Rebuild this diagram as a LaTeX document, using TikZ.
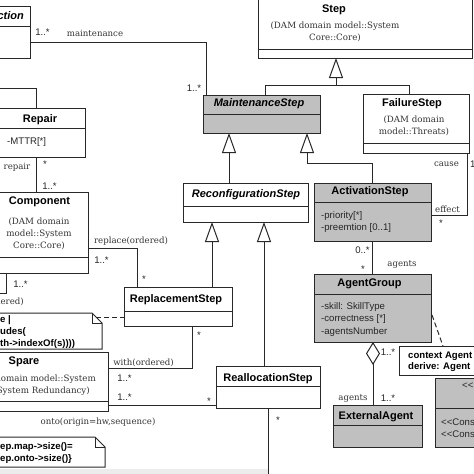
\documentclass[tikz,border=0pt]{standalone}
\usepackage{fontspec}
\setmainfont{DejaVu Serif}
\setsansfont{Liberation Sans}
\usetikzlibrary{arrows.meta,calc}
\definecolor{clsgray}{RGB}{192,192,192}
\definecolor{lncol}{RGB}{40,40,40}
\definecolor{bandgray}{RGB}{236,236,236}
\newcommand\divline[2]{\draw[ln] ($(#1.north west)+(0,#2)$) -- ($(#1.north east)+(0,#2)$);}
\begin{document}
\begin{tikzpicture}[x=1pt,y=-1pt,
  ln/.style={draw=lncol,line width=1pt},
  gen/.style={-{Triangle[open,length=20pt,width=14pt]}},
  agg/.style={-{Diamond[open,length=23pt,width=14pt]}},
  dsh/.style={dash pattern=on 5pt off 3pt},
  clsbox/.style={draw=lncol,line width=1pt,fill=white,inner sep=0pt,outer sep=0pt,anchor=north west},
  gbox/.style={clsbox,fill=clsgray},
  notebox/.style={draw=none,fill=white,inner sep=0pt,outer sep=0pt,anchor=north west},
  cn/.style={inner sep=0pt,font=\sffamily\bfseries\fontsize{11}{13}\selectfont},
  acn/.style={inner sep=0pt,font=\sffamily\bfseries\itshape\fontsize{11}{13}\selectfont},
  pk/.style={inner sep=0pt,align=center,text=black!80,font=\fontsize{8.7}{12}\selectfont},
  attr/.style={inner sep=0pt,anchor=west,align=left,text=black!85,font=\sffamily\fontsize{9.6}{12.3}\selectfont},
  ml/.style={inner sep=0pt,text=black!85,font=\sffamily\fontsize{9.6}{11}\selectfont},
  lb/.style={inner sep=0pt,text=black!80,font=\fontsize{8.6}{10}\selectfont},
  nt/.style={inner sep=0pt,anchor=west,align=left,font=\sffamily\bfseries\fontsize{9.6}{12}\selectfont}]
\useasboundingbox (0,0) rectangle (474,474);
\clip (0,0) rectangle (474,474);
\fill[white] (0,0) rectangle (474,474);
\fill[bandgray] (0,469) rectangle (268,474);

% ---------- class boxes ----------
\node[clsbox,minimum width=70pt,minimum height=52pt] (act0) at (-40,6) {};
\divline{act0}{20}
\node[acn,anchor=east] (t-act0) at (24,16) {ction};

\node[clsbox,minimum width=214pt,minimum height=61pt] (step) at (258,-3) {};
\divline{step}{52}
\node[cn] (t-step) at (334,10) {Step};
\node[pk] (p-step) at (335,32) {(DAM domain model::System\\Core::Core)};

\node[gbox,minimum width=117pt,minimum height=38pt] (maint) at (203,95) {};
\divline{maint}{19}
\node[acn] (t-maint) at (259,104) {MaintenanceStep};

\node[clsbox,minimum width=106pt,minimum height=59pt] (fail) at (363,94) {};
\divline{fail}{49}
\node[cn] (t-fail) at (412,104) {FailureStep};
\node[pk] (p-fail) at (414,126) {(DAM domain\\model::Threats)};

\node[clsbox,minimum width=125pt,minimum height=39pt] (reconf) at (183,183) {};
\divline{reconf}{23}
\node[acn] (t-reconf) at (246,195) {ReconfigurationStep};

\node[gbox,minimum width=117pt,minimum height=58pt] (act) at (314,183) {};
\divline{act}{19}
\node[cn] (t-act) at (370,192) {ActivationStep};
\node[attr] (a-act) at (321,222) {-priority[*]\\-preemtion [0..1]};

\node[gbox,minimum width=117pt,minimum height=68pt] (ag) at (314,274) {};
\divline{ag}{20}
\node[cn] (t-ag) at (369.5,284) {AgentGroup};
\node[attr] (a-ag) at (321,319.5) {-skill: SkillType\\-correctness [*]\\-agentsNumber};

\node[gbox,minimum width=89pt,minimum height=42pt] (ext) at (333,405) {};
\divline{ext}{20}
\node[cn] (t-ext) at (376,417) {ExternalAgent};

\node[gbox,minimum width=60pt,minimum height=69pt] (cons) at (435,378) {};
\divline{cons}{30}
\node[ml,anchor=west] (t-cons) at (462,386) {{<}{<}};
\node[attr] (a-cons) at (441,428) {{<}{<}Cons\\{<}{<}Cons};

\node[clsbox,minimum width=108pt,minimum height=39pt] (repl) at (124,287) {};
\divline{repl}{24}
\node[cn] (t-repl) at (176,300) {ReplacementStep};

\node[clsbox,minimum width=104pt,minimum height=42pt] (realloc) at (216,366) {};
\divline{realloc}{20}
\node[cn] (t-realloc) at (268,379) {ReallocationStep};

\node[clsbox,minimum width=98pt,minimum height=81pt] (comp) at (-10,192) {};
\divline{comp}{65}
\node[cn] (t-comp) at (39.5,202) {Component};
\node[pk] (p-comp) at (39,234) {(DAM domain\\model::System\\Core::Core)};

\node[clsbox,minimum width=95pt,minimum height=49pt] (repair) at (-10,108) {};
\divline{repair}{20}
\node[cn] (t-repair) at (40,120) {Repair};
\node[attr] (a-repair) at (7,142) {-MTTR[*]};

\node[clsbox,minimum width=158pt,minimum height=59pt] (spare) at (-50,352) {};
\divline{spare}{49}
\node[cn] (t-spare) at (24,362) {Spare};
\node[pk,anchor=east] (p-spare1) at (96,379) {(DAM domain model::System};
\node[pk,anchor=east] (p-spare2) at (90,391) {System Redundancy)};

% ---------- notes ----------
\node[notebox,minimum width=152pt,minimum height=36pt] (n1) at (-50,313) {};
\draw[ln] (n1.north west) -- ($(n1.north east)+(-10,0)$) -- ($(n1.north east)+(0,10)$) -- (n1.south east) -- (n1.south west);
\draw[ln] ($(n1.north east)+(-10,0)$) |- ($(n1.north east)+(0,10)$);
\node[nt] (tn1) at (0,332) {e |\\udes(\\th->indexOf(s))))};

\node[notebox,minimum width=155pt,minimum height=30pt] (n2) at (-50,437) {};
\draw[ln] (n2.north west) -- ($(n2.north east)+(-10,0)$) -- ($(n2.north east)+(0,10)$) -- (n2.south east) -- (n2.south west);
\draw[ln] ($(n2.north east)+(-10,0)$) |- ($(n2.north east)+(0,10)$);
\node[nt] (tn2) at (0,453) {ep.map->size()=\\ep.onto->size()\}};

\node[clsbox,minimum width=91pt,minimum height=29pt] (n3) at (399,346) {};
\node[nt,font=\sffamily\bfseries\fontsize{9.6}{11.5}\selectfont] (tn3) at (408,361.5) {context Agent\\derive: Agent};

% ---------- connectors ----------
\draw[ln] ($(act0.north east)+(0,36)$) -| ($(maint.north west)+(3,0)$);
\draw[ln,gen] ($(maint.north west)+(62,0)$) |- ($(step.south west)+(78,27)$) -- ($(step.south west)+(78,0)$);
\draw[ln] ($(fail.north west)+(46,0)$) |- ($(step.south west)+(78,27)$);
\draw[ln,gen] ($(reconf.north west)+(46,0)$) -- ($(maint.south west)+(26,0)$);
\draw[ln,gen] (act.north) |- ($(maint.south west)+(104,30)$) -- ($(maint.south west)+(104,0)$);
\draw[ln] ($(fail.south east)+(-2,0)$) |- ($(act.north east)+(0,32)$);
\draw[ln] (act.south) -- (ag.north);
\draw[ln,agg] ($(ext.north west)+(40,0)$) -- ($(ag.south west)+(59,0)$);
\draw[ln,gen] ($(repl.north west)+(88,0)$) -- ($(reconf.south west)+(29,0)$);
\draw[ln,gen] ($(realloc.north west)+(48,0)$) -- ($(reconf.south west)+(81,0)$);
\coordinate (rbot) at (268,480);
\draw[ln] (realloc.south) -- (rbot);
\draw[ln] ($(comp.north east)+(0,56)$) -| ($(repl.north west)+(13,0)$);
\draw[ln] ($(repair.south west)+(46,0)$) -- ($(comp.north west)+(46,0)$);
\coordinate (rtop) at (-5,88);
\draw[ln] ($(repair.north west)+(46,0)$) |- (rtop);
\coordinate (cbot) at (-5,293);
\draw[ln] ($(comp.south west)+(16,0)$) |- (cbot);
\draw[ln,dsh] ($(n1.north east)+(-6,4)$) -- ($(repl.north west)+(0,30)$);
\draw[ln] ($(spare.north east)+(0,16)$) -| ($(repl.south west)+(68,0)$);
\draw[ln] ($(spare.north east)+(0,53)$) -- ($(realloc.north west)+(0,39)$);
\draw[ln,dsh] ($(ag.north east)+(1,41)$) -- ($(n3.north west)+(44,0)$);

% ---------- labels ----------
\node[ml] (l1) at (42.5,32) {1..*};
\node[lb] (l2) at (95,33) {maintenance};
\node[ml] (l3) at (194,88) {1..*};
\node[lb] (l4) at (17,167) {repair};
\node[ml] (l5) at (45,164) {*};
\node[ml] (l6) at (49.5,186) {1..*};
\node[ml] (l7) at (20.5,284) {1..*};
\node[lb,anchor=east] (l8) at (24,302) {ordered)};
\node[lb] (l9) at (131,241) {replace(ordered)};
\node[ml] (l10) at (101.5,260) {1..*};
\node[ml] (l11) at (144,279) {*};
\node[lb] (l12) at (143.5,363) {with(ordered)};
\node[ml] (l13) at (124.5,378) {1..*};
\node[ml] (l14) at (199,335) {*};
\node[ml] (l15) at (124.5,397) {1..*};
\node[ml] (l16) at (209,401) {*};
\node[lb] (l17) at (98,422) {onto(origin=hw,sequence)};
\node[ml] (l18) at (278,420) {*};
\node[lb] (l19) at (446.5,164) {cause};
\node[ml,anchor=west] (l20) at (470,164) {1};
\node[lb] (l21) at (447.5,209) {effect};
\node[ml] (l22) at (441,223) {*};
\node[ml] (l23) at (362.5,250) {0..*};
\node[ml] (l24) at (363,269) {*};
\node[lb] (l25) at (402,265) {agents};
\node[ml] (l26) at (388,352) {1..*};
\node[lb] (l27) at (353,399) {agents};
\node[ml] (l28) at (388,398) {1..*};
\end{tikzpicture}
\end{document}
